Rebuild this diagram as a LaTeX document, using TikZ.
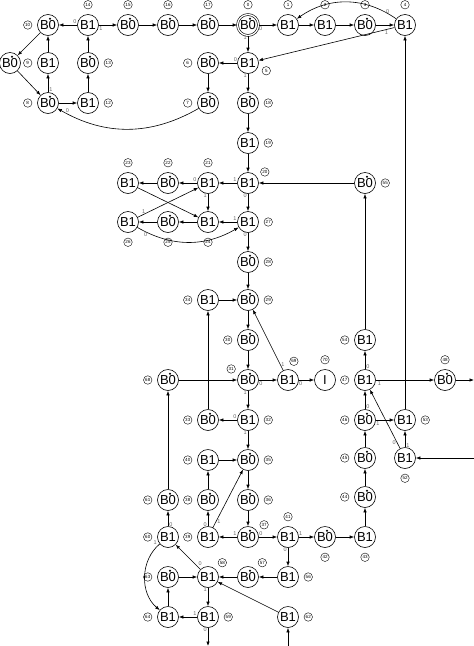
\documentclass[tikz,border=0pt]{standalone}
\usepackage{fontspec}
\setmainfont{Liberation Sans}
\usetikzlibrary{arrows.meta}
\tikzset{
  st/.style={circle,draw,line width=0.6pt,minimum size=21pt,inner sep=0pt,font=\fontsize{13}{13}\selectfont},
  stz/.style={st,label={[dotmark]78:{}}},
  dotmark/.style={circle,fill=black,draw=none,minimum size=2.1pt,inner sep=0pt,label distance=-5.3pt},
  start/.style={stz,double,double distance=1.3pt},
  num/.style={circle,draw,line width=0.4pt,minimum size=8.5pt,inner sep=0pt,font=\fontsize{4.5}{5}\selectfont},
  edge/.style={-{Latex[length=4.5pt,width=3.4pt]},line width=0.6pt},
  el/.style={font=\fontsize{5.5}{6}\selectfont,text=black!60,inner sep=1pt}
}
\begin{document}
\begin{tikzpicture}[x=1pt,y=1pt,every label/.style={num},label distance=5pt]
                \useasboundingbox (0,0) rectangle (474,-646);
                \node[stz,label=180:10] (q10) at (48,-25) {B0};
                \node[st,label=90:14] (q14) at (88,-25) {B1};
                \node[stz,label=90:15] (q15) at (128,-25) {B0};
                \node[stz,label=90:16] (q16) at (168,-25) {B0};
                \node[stz,label=90:17] (q17) at (208,-25) {B0};
                \node[start,label=90:0] (q0) at (248,-25) {B0};
                \node[st,label=90:1] (q1) at (288,-25) {B1};
                \node[st,label=90:2] (q2) at (325,-25) {B1};
                \node[stz,label=90:3] (q3) at (365,-25) {B0};
                \node[st,label=90:4] (q4) at (405,-25) {B1};
                \node[stz] (q11) at (10,-63) {B0};
                \node[st,label=180:9] (q9) at (48,-63) {B1};
                \node[stz,label=0:13] (q13) at (88,-63) {B0};
                \node[stz,label=180:6] (q6) at (208,-63) {B0};
                \node[st,label=-17:5] (q5) at (248,-63) {B1};
                \node[stz,label=180:8] (q8) at (48,-103) {B0};
                \node[st,label=0:12] (q12) at (88,-103) {B1};
                \node[stz,label=180:7] (q7) at (208,-103) {B0};
                \node[stz,label=0:18] (q18) at (248,-103) {B0};
                \node[st,label=0:19] (q19) at (248,-143) {B1};
                \node[st,label=90:23] (q23) at (128,-183) {B1};
                \node[stz,label=90:22] (q22) at (168,-183) {B0};
                \node[st,label=90:21] (q21) at (208,-183) {B1};
                \node[st,label=30:20] (q20) at (248,-183) {B1};
                \node[stz,label=0:55] (q55) at (365,-183) {B0};
                \node[st,label=-90:26] (q26) at (128,-222) {B1};
                \node[stz,label=-90:25] (q25) at (168,-222) {B0};
                \node[st,label=-90:24] (q24) at (208,-222) {B1};
                \node[st,label=0:27] (q27) at (248,-222) {B1};
                \node[stz,label=0:28] (q28) at (248,-262) {B0};
                \node[st,label=180:34] (q34) at (208,-300) {B1};
                \node[stz,label=0:29] (q29) at (248,-300) {B0};
                \node[stz,label=180:30] (q30) at (248,-340) {B0};
                \node[stz,label=180:68] (q68) at (168,-380) {B0};
                \node[stz,label=150:31] (q31) at (248,-380) {B0};
                \node[st,label=80:69] (q69) at (288,-380) {B1};
                \node[st,label=90:70] (q70) at (325,-380) {I};
                \node[stz,label=180:33] (q33) at (208,-420) {B0};
                \node[st,label=0:32] (q32) at (248,-420) {B1};
                \node[st,label=180:40] (q40) at (208,-460) {B1};
                \node[stz,label=0:35] (q35) at (248,-460) {B0};
                \node[stz,label=180:61] (q61) at (168,-500) {B0};
                \node[stz,label=180:38] (q38) at (208,-500) {B0};
                \node[stz,label=0:36] (q36) at (248,-500) {B0};
                \node[st,label=180:60] (q60) at (168,-537) {B1};
                \node[st,label=180:39] (q39) at (208,-537) {B1};
                \node[stz,label=35:37] (q37) at (248,-537) {B0};
                \node[st,label=90:41] (q41) at (288,-537) {B1};
                \node[stz,label=-90:42] (q42) at (325,-537) {B0};
                \node[st,label=-90:43] (q43) at (365,-537) {B1};
                \node[stz,label=180:44] (q44) at (365,-497) {B0};
                \node[stz,label=180:45] (q45) at (365,-458) {B0};
                \node[stz,label=180:46] (q46) at (365,-420) {B0};
                \node[st,label=180:47] (q47) at (365,-380) {B1};
                \node[st,label=180:54] (q54) at (365,-340) {B1};
                \node[stz,label=90:48] (q48) at (445,-380) {B0};
                \node[st,label=0:53] (q53) at (405,-420) {B1};
                \node[st,label=-90:52] (q52) at (405,-458) {B1};
                \node[stz,label=180:63] (q63) at (168,-577) {B0};
                \node[st,label=45:58] (q58) at (208,-577) {B1};
                \node[stz,label=45:57] (q57) at (248,-577) {B0};
                \node[st,label=0:56] (q56) at (288,-577) {B1};
                \node[st,label=180:64] (q64) at (168,-617) {B1};
                \node[st,label=0:59] (q59) at (208,-617) {B1};
                \node[st,label=0:62] (q62) at (288,-617) {B1};
                \coordinate (q48out) at (474,-380);
                \coordinate (q52in) at (474,-458);
                \coordinate (q59out) at (208,-646);
                \coordinate (q62in) at (288,-646);
                %\draw[help lines] (0,0) grid[step=20] (474,-646);
                \draw[edge] (q14) -- node[el,pos=0.12,above]{0} (q10);
                \draw[edge] (q14) -- node[el,pos=0.12,below]{1} (q15);
                \draw[edge] (q15) -- (q16);
                \draw[edge] (q16) -- (q17);
                \draw[edge] (q17) -- (q0);
                \draw[edge] (q0) -- node[el,pos=0.1,below]{0} (q1);
                \draw[edge] (q1) -- (q2);
                \draw[edge] (q2) -- (q3);
                \draw[edge] (q3) -- (q4);
                \draw[edge] (q4) to[bend right=35] node[el,pos=0.06,above left]{0} (q1);
                \draw[edge] (q4) -- node[el,pos=0.06,below]{1} (q5);
                \draw[edge] (q0) -- node[el,pos=0.1,left]{1} (q5);
                \draw[edge] (q10) -- (q11);
                \draw[edge] (q11) -- (q8);
                \draw[edge] (q9) -- (q10);
                \draw[edge] (q8) -- node[el,pos=0.15,right]{1} (q9);
                \draw[edge] (q8) -- (q12);
                \draw[edge] (q12) -- (q13);
                \draw[edge] (q13) -- (q14);
                \draw[edge] (q5) -- node[el,pos=0.1,above]{0} (q6);
                \draw[edge] (q6) -- (q7);
                \draw[edge] (q7) to[bend left=30] node[el,pos=0.93,above]{0} (q8);
                \draw[edge] (q5) -- node[el,pos=0.1,left]{1} (q18);
                \draw[edge] (q18) -- (q19);
                \draw[edge] (q19) -- (q20);
                \draw[edge] (q55) -- (q20);
                \draw[edge] (q20) -- node[el,pos=0.12,above]{1} (q21);
                \draw[edge] (q20) -- node[el,pos=0.12,left]{0} (q27);
                \draw[edge] (q21) -- node[el,pos=0.12,above]{0} (q22);
                \draw[edge] (q22) -- (q23);
                \draw[edge] (q21) -- node[el,pos=0.12,left]{1} (q24);
                \draw[edge] (q23) -- (q24);
                \draw[edge] (q26) -- node[el,pos=0.1,above]{1} (q21);
                \draw[edge] (q24) -- (q25);
                \draw[edge] (q25) -- (q26);
                \draw[edge] (q27) -- node[el,pos=0.12,above]{1} (q24);
                \draw[edge] (q26) to[bend right=30] node[el,pos=0.08,below]{0} (q27);
                \draw[edge] (q27) -- node[el,pos=0.12,left]{0} (q28);
                \draw[edge] (q28) -- (q29);
                \draw[edge] (q34) -- (q29);
                \draw[edge] (q29) -- (q30);
                \draw[edge] (q30) -- (q31);
                \draw[edge] (q68) -- (q31);
                \draw[edge] (q31) -- node[el,pos=0.12,below]{0} (q69);
                \draw[edge] (q69) -- node[el,pos=0.12,below]{0} (q70);
                \draw[edge] (q69) -- node[el,pos=0.1,right]{1} (q29);
                \draw[edge] (q31) -- node[el,pos=0.12,left]{1} (q32);
                \draw[edge] (q33) -- (q34);
                \draw[edge] (q61) -- (q68);
                \draw[edge] (q32) -- node[el,pos=0.12,above]{0} (q33);
                \draw[edge] (q32) -- node[el,pos=0.12,left]{1} (q35);
                \draw[edge] (q40) -- (q35);
                \draw[edge] (q35) -- (q36);
                \draw[edge] (q38) -- (q40);
                \draw[edge] (q36) -- (q37);
                \draw[edge] (q37) -- node[el,pos=0.12,above]{1} (q39);
                \draw[edge] (q37) -- node[el,pos=0.12,above]{0} (q41);
                \draw[edge] (q41) -- node[el,pos=0.12,above]{1} (q42);
                \draw[edge] (q42) -- (q43);
                \draw[edge] (q39) -- node[el,pos=0.12,left]{0} (q38);
                \draw[edge] (q39) -- node[el,pos=0.1,right]{1} (q35);
                \draw[edge] (q60) -- node[el,pos=0.12,right]{0} (q61);
                \draw[edge] (q41) -- node[el,pos=0.12,left]{0} (q56);
                \draw[edge] (q43) -- (q44);
                \draw[edge] (q44) -- (q45);
                \draw[edge] (q45) -- (q46);
                \draw[edge] (q46) -- node[el,pos=0.12,right]{0} (q47);
                \draw[edge] (q47) -- node[el,pos=0.12,right]{0} (q54);
                \draw[edge] (q54) -- (q55);
                \draw[edge] (q47) -- node[el,pos=0.06,below]{1} (q48);
                \draw[edge] (q48) -- (q48out);
                \draw[edge] (q46) -- node[el,pos=0.12,below]{1} (q53);
                \draw[edge] (q52) -- node[el,pos=0.12,right]{1} (q53);
                \draw[edge] (q52) -- node[el,pos=0.1,left]{0} (q47);
                \draw[edge] (q52in) -- (q52);
                \draw[edge] (q53) -- (q4);
                \draw[edge] (q56) -- (q57);
                \draw[edge] (q57) -- (q58);
                \draw[edge] (q63) -- (q58);
                \draw[edge] (q58) -- node[el,pos=0.12,above right]{0} (q60);
                \draw[edge] (q58) -- node[el,pos=0.12,left]{1} (q59);
                \draw[edge] (q59) -- node[el,pos=0.12,above]{1} (q64);
                \draw[edge] (q64) -- (q63);
                \draw[edge] (q60) to[bend right=50] node[el,pos=0.03,above left]{1} (q64);
                \draw[edge] (q62) -- (q58);
                \draw[edge] (q59) -- node[el,pos=0.12,left]{0} (q59out);
                \draw[edge] (q62in) -- (q62);
\end{tikzpicture}
\end{document}
